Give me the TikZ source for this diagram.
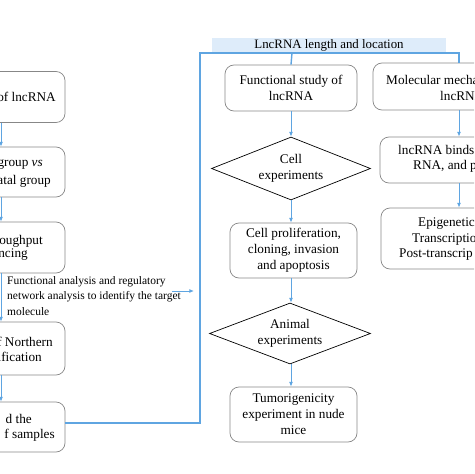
\documentclass[tikz,border=0pt]{standalone}
\usepackage{fontspec}
\setmainfont{Liberation Serif}
\usetikzlibrary{arrows.meta,shapes.geometric}
\definecolor{flowblue}{RGB}{95,165,225}
\definecolor{headblue}{RGB}{222,236,250}
\definecolor{boxgray}{RGB}{135,135,135}
\newcommand{\pxu}{0.03cm}
\tikzset{
  stepbox/.style={draw=boxgray,line width=0.6pt,rounded corners=0.27cm,inner sep=0pt,align=center,
    font=\fontsize{11.3}{13.6}\selectfont},
  testbox/.style={diamond,draw=black,line width=0.6pt,aspect=2.54,inner sep=0pt,align=center,
    font=\fontsize{11.3}{13.6}\selectfont},
  cuttext/.style={inner sep=0pt,font=\fontsize{11.3}{13.6}\selectfont},
  flow/.style={draw=flowblue,line width=0.8pt,-{Latex[length=4pt,width=3.4pt]}},
  frameline/.style={draw=flowblue,line width=1.2pt},
}

\begin{document}
\begin{tikzpicture}[x=\pxu,y=-\pxu]
        \useasboundingbox (0,0) rectangle (474,474);
        \clip (0,0) rectangle (474,474);
        % left column (cut at the edge)
        \node (l1) at (1,97) [stepbox,minimum width=128*\pxu,minimum height=51*\pxu] {};
        \node (l2) at (1,172) [stepbox,minimum width=128*\pxu,minimum height=50*\pxu] {};
        \node (l3) at (1,247.5) [stepbox,minimum width=128*\pxu,minimum height=51*\pxu] {};
        \node (l4) at (1,348.5) [stepbox,minimum width=128*\pxu,minimum height=53*\pxu] {};
        \node (l5) at (1,427) [stepbox,minimum width=128*\pxu,minimum height=50*\pxu] {};
        \node (l1a) at (56,97) [cuttext,anchor=east] {of lncRNA};
        \node (l2a) at (43,165) [cuttext,anchor=east] {group \textit{vs}};
        \node (l2b) at (51,181) [cuttext,anchor=east] {atal group};
        \node (l3a) at (43,241) [cuttext,anchor=east] {oughput};
        \node (l3b) at (28,255) [cuttext,anchor=east] {ncing};
        \node (l4a) at (53,342) [cuttext,anchor=east] {f Northern};
        \node (l4b) at (42,357) [cuttext,anchor=east] {ification};
        \node (l5a) at (32,419) [cuttext,anchor=east] {d the};
        \node (l5b) at (55,435) [cuttext,anchor=east] {f samples};
        \draw [flow] (l1.south)--(l2.north);
        \draw [flow] (l2.south)--(l3.north);
        \draw [flow] (l3.south)--(l4.north);
        \draw [flow] (l4.south)--(l5.north);
        \node (note) at (7,276) [anchor=north west,inner sep=0pt,align=left,
          font=\fontsize{9.8}{13.4}\selectfont] {Functional analysis and regulatory\\network analysis to identify the target\\molecule};
        % header and frame
        \node (head) at (329,45) [fill=headblue,inner sep=0pt,minimum width=234*\pxu,minimum height=15*\pxu,
          font=\fontsize{11}{13}\selectfont] {LncRNA length and location};
        \coordinate (fbot) at (200,423);
        \coordinate (ftop) at (200,53);
        \coordinate (fmid) at (292,53);
        \coordinate (fright) at (459,53);
        \coordinate (notetip) at (172,291);
        \coordinate (noteend) at (194,291);
        % middle column
        \node (m1) at (291,88) [stepbox,minimum width=132*\pxu,minimum height=46*\pxu] {Functional study of\\lncRNA};
        \node (d1) at (291,168.5) [testbox,minimum width=159*\pxu,minimum height=63*\pxu] {Cell\\experiments};
        \node (m2) at (293.5,250.5) [stepbox,minimum width=127*\pxu,minimum height=55*\pxu] {Cell proliferation,\\cloning, invasion\\and apoptosis};
        \node (d2) at (290,333.5) [testbox,minimum width=161*\pxu,minimum height=61*\pxu] {Animal\\experiments};
        \node (m3) at (293.5,414.5) [stepbox,minimum width=127*\pxu,minimum height=55*\pxu] {Tumorigenicity\\experiment in nude\\mice};
        % right column (cut at the edge)
        \node (r1) at (459,86.5) [stepbox,minimum width=172*\pxu,minimum height=47*\pxu] {};
        \node (r2) at (459,160) [stepbox,minimum width=158*\pxu,minimum height=46*\pxu] {};
        \node (r3) at (459,238.5) [stepbox,minimum width=156*\pxu,minimum height=61*\pxu] {};
        \node (r1a) at (386,80) [cuttext,anchor=west] {Molecular mechanism of};
        \node (r1b) at (440,96) [cuttext,anchor=west] {lncRNA};
        \node (r2a) at (398,150) [cuttext,anchor=west] {lncRNA binds};
        \node (r2b) at (413,166) [cuttext,anchor=west] {RNA, and p};
        \node (r3a) at (418,224) [cuttext,anchor=west] {Epigenetic};
        \node (r3b) at (412,240) [cuttext,anchor=west] {Transcriptio};
        \node (r3c) at (399,255) [cuttext,anchor=west] {Post-transcrip};
        % connectors
        \draw [frameline] (l5.east|-fbot)--(fbot)--(ftop)--(fright)--(r1.north);
        \draw [frameline] (fmid)--(m1.north);
        \draw [flow] (notetip)--(noteend);
        \draw [flow] (m1.south)--(m1.south|-d1.north);
        \draw [flow] (m1.south|-d1.south)--(m1.south|-m2.north);
        \draw [flow] (m1.south|-m2.south)--(m1.south|-d2.north);
        \draw [flow] (m1.south|-d2.south)--(m1.south|-m3.north);
        \draw [flow] (r1.south)--(r2.north);
        \draw [flow] (r2.south)--(r3.north);
      \end{tikzpicture}
\end{document}
